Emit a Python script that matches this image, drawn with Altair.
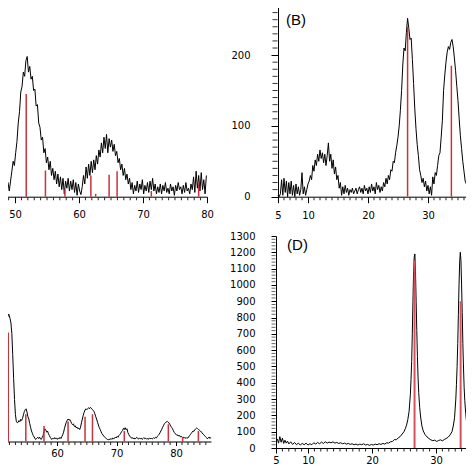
import altair as alt
import pandas as pd

# ---------------- data (2-theta in degrees, intensity in counts) ----------------
# Panel A (top-left, cropped): step 0.2 deg from 47.7
A_counts = [
    14, 22, 10, 24, 6, 18,
    20, 8, 22, 36, 50, 44, 62, 78, 104, 120,
    148, 156, 176, 170, 192, 198, 176, 184, 166, 170,
    150, 152, 128, 130, 104, 98, 80, 84, 62, 68,
    48, 56, 38, 50, 30, 40, 24, 36, 18, 32,
    14, 28, 10, 26, 4, 22, 12, 26, 8, 22,
    10, 24, 6, 20, 2, 18, 8, 3, 14, 30,
    18, 42, 26, 46, 30, 50, 34, 52, 38, 58,
    46, 66, 56, 76, 62, 84, 68, 88, 62, 82,
    70, 80, 64, 74, 58, 64, 48, 54, 38, 46,
    30, 40, 24, 32, 18, 26, 10, 20, 4, 16,
    8, 22, 6, 18, 10, 24, 4, 16, 8, 20,
    6, 22, 10, 26, 8, 18, 4, 14, 6, 18,
    4, 16, 8, 20, 6, 12, 4, 18, 8, 14,
    2, 16, 8, 20, 10, 14, 4, 16, 6, 20,
    8, 12, 4, 18, 10, 28, 6, 36, 12, 30,
    8, 34, 10, 24, 4, 30,
]
A_angle = [round(47.7 + 0.2 * i, 2) for i in range(len(A_counts))]
A_ref_angle = [51.75, 54.75, 57.8, 61.85, 62.6, 64.7, 65.95, 71.3, 78.7]
A_ref_counts = [145, 37, 10, 30, 4, 31, 36, 8, 20]

# Panel B (top-right): step 0.2 deg from 5.0
B_counts = [
    2, 0, 4, 24, 2, 26, 6, 22, 0, 20,
    4, 22, 2, 16, 0, 18, 4, 14, 2, 10,
    34, 4, 14, 2, 10, 18, 22, 30, 24, 44,
    36, 52, 44, 60, 50, 66, 54, 62, 48, 60,
    44, 58, 76, 50, 60, 40, 52, 32, 42, 24,
    30, 12, 20, 2, 14, 4, 16, 6, 12, 2,
    10, 6, 12, 4, 8, 12, 4, 10, 14, 6,
    12, 4, 16, 8, 12, 4, 14, 6, 18, 8,
    14, 4, 20, 10, 16, 6, 14, 8, 20, 14,
    26, 18, 30, 24, 38, 36, 50, 48, 62, 72,
    84, 100, 122, 150, 186, 210, 206, 232, 252, 238,
    222, 224, 194, 160, 124, 96, 74, 58, 38, 30,
    20, 26, 14, 22, 8, 16, 4, 14, 2, 28,
    18, 34, 30, 44, 58, 62, 84, 108, 150, 172,
    190, 204, 212, 208, 218, 222, 212, 196, 178, 156,
    136, 110, 86, 68, 50, 36, 22, 18, 40, 34,
    50, 56, 52, 60,
]
B_angle = [round(5.0 + 0.2 * i, 2) for i in range(len(B_counts))]
B_ref_angle = [26.6, 33.9]
B_ref_counts = [240, 185]

# Panel C (bottom-left, cropped)
C_points = [
    (50.45, 170), (50.6, 165), (50.75, 172), (50.9, 185), (51.0, 260),
    (51.1, 420), (51.25, 630), (51.4, 740), (51.55, 800), (51.65, 825),
    (51.75, 835), (51.85, 850), (51.95, 842), (52.1, 820), (52.25, 790),
    (52.4, 720), (52.55, 580), (52.7, 420), (52.85, 280), (53.0, 180),
    (53.15, 135), (53.3, 125), (53.45, 128), (53.6, 140), (53.75, 132),
    (53.9, 148), (54.05, 140), (54.2, 155), (54.35, 178), (54.5, 200),
    (54.65, 212), (54.8, 218), (54.95, 196), (55.1, 165), (55.25, 150),
    (55.4, 120), (55.55, 95), (55.7, 70), (55.85, 55), (56.0, 40),
    (56.15, 30), (56.3, 18), (56.45, 14), (56.6, 22), (56.75, 28),
    (56.9, 20), (57.05, 30), (57.2, 18), (57.35, 14), (57.5, 26),
    (57.65, 40), (57.8, 70), (57.95, 85), (58.1, 78), (58.25, 62),
    (58.4, 70), (58.55, 52), (58.7, 40), (58.85, 28), (59.0, 18),
    (59.15, 14), (59.3, 22), (59.45, 16), (59.6, 26), (59.75, 18),
    (59.9, 24), (60.05, 14), (60.2, 22), (60.35, 18), (60.5, 28),
    (60.65, 20), (60.8, 32), (60.95, 45), (61.1, 62), (61.25, 88),
    (61.4, 110), (61.55, 128), (61.7, 140), (61.85, 150), (62.0, 142),
    (62.15, 146), (62.3, 135), (62.45, 120), (62.6, 112), (62.75, 118),
    (62.9, 100), (63.05, 105), (63.2, 92), (63.35, 96), (63.5, 85),
    (63.65, 90), (63.8, 80), (63.95, 95), (64.1, 125), (64.25, 150),
    (64.4, 175), (64.55, 195), (64.7, 210), (64.85, 218), (65.0, 212),
    (65.15, 220), (65.3, 225), (65.45, 218), (65.6, 228), (65.75, 222),
    (65.9, 215), (66.05, 208), (66.2, 200), (66.35, 185), (66.5, 165),
    (66.65, 150), (66.8, 128), (66.95, 110), (67.1, 92), (67.25, 80),
    (67.4, 65), (67.55, 52), (67.7, 44), (67.85, 36), (68.0, 30),
    (68.15, 24), (68.3, 18), (68.45, 14), (68.6, 10), (68.75, 16),
    (68.9, 12), (69.05, 20), (69.2, 14), (69.35, 24), (69.5, 16),
    (69.65, 22), (69.8, 30), (69.95, 24), (70.1, 34), (70.25, 28),
    (70.4, 40), (70.55, 46), (70.7, 55), (70.85, 66), (71.0, 72),
    (71.15, 88), (71.3, 80), (71.45, 92), (71.6, 78), (71.75, 85),
    (71.9, 60), (72.05, 46), (72.2, 36), (72.35, 30), (72.5, 22),
    (72.65, 26), (72.8, 18), (72.95, 24), (73.1, 16), (73.25, 22),
    (73.4, 28), (73.55, 20), (73.7, 16), (73.85, 24), (74.0, 18),
    (74.15, 22), (74.3, 14), (74.45, 20), (74.6, 26), (74.75, 18),
    (74.9, 22), (75.05, 16), (75.2, 20), (75.35, 14), (75.5, 24),
    (75.65, 18), (75.8, 22), (75.95, 16), (76.1, 20), (76.25, 26),
    (76.4, 20), (76.55, 28), (76.7, 24), (76.85, 34), (77.0, 40),
    (77.15, 48), (77.3, 58), (77.45, 70), (77.6, 82), (77.75, 95),
    (77.9, 108), (78.05, 118), (78.2, 126), (78.35, 130), (78.5, 135),
    (78.65, 128), (78.8, 125), (78.95, 115), (79.1, 102), (79.25, 95),
    (79.4, 85), (79.55, 72), (79.7, 60), (79.85, 52), (80.0, 48),
    (80.15, 40), (80.3, 44), (80.45, 36), (80.6, 40), (80.75, 30),
    (80.9, 34), (81.05, 26), (81.2, 30), (81.35, 22), (81.5, 28),
    (81.65, 20), (81.8, 26), (81.95, 22), (82.1, 30), (82.25, 38),
    (82.4, 46), (82.55, 55), (82.7, 62), (82.85, 70), (83.0, 68),
    (83.15, 78), (83.3, 85), (83.45, 90), (83.6, 86), (83.75, 80),
    (83.9, 76), (84.05, 72), (84.2, 64), (84.35, 60), (84.5, 50),
    (84.65, 46), (84.8, 38), (84.95, 32), (85.1, 26), (85.25, 18),
    (85.4, 24), (85.55, 30), (85.7, 20), (85.85, 28),
]
C_angle = [p[0] for p in C_points]
C_counts = [p[1] for p in C_points]
C_ref_angle = [51.8, 54.75, 57.8, 61.85, 64.7, 65.95, 71.3, 78.7, 81.1, 83.75]
C_ref_counts = [727, 182, 104, 133, 165, 182, 70, 115, 30, 70]

# Panel D (bottom-right)
D_points = [
    (5.0, 40), (5.2, 55), (5.4, 30), (5.6, 70), (5.8, 35), (6.0, 60),
    (6.2, 28), (6.4, 48), (6.6, 30), (6.8, 42), (7.0, 25), (7.3, 38),
    (7.6, 22), (7.9, 34), (8.2, 20), (8.5, 30), (8.8, 18), (9.1, 28),
    (9.4, 20), (9.7, 30), (10.0, 18), (10.3, 26), (10.6, 20), (10.9, 32),
    (11.2, 24), (11.5, 34), (11.8, 26), (12.1, 36), (12.4, 28), (12.7, 38),
    (13.0, 30), (13.3, 36), (13.6, 32), (13.9, 38), (14.2, 30), (14.5, 34),
    (14.8, 28), (15.1, 32), (15.4, 26), (15.7, 30), (16.0, 24), (16.3, 28),
    (16.6, 22), (16.9, 26), (17.2, 20), (17.5, 24), (17.8, 18), (18.1, 24),
    (18.4, 20), (18.7, 26), (19.0, 18), (19.3, 22), (19.6, 16), (19.9, 22),
    (20.2, 18), (20.5, 24), (20.8, 20), (21.1, 26), (21.4, 22), (21.7, 28),
    (22.0, 24), (22.3, 32), (22.6, 30), (22.9, 38), (23.2, 40), (23.5, 52),
    (23.8, 50), (24.1, 62), (24.4, 70), (24.7, 85), (25.0, 100), (25.2, 118),
    (25.4, 140), (25.6, 175), (25.8, 225), (26.0, 330), (26.1, 420), (26.2, 530),
    (26.3, 700), (26.4, 900), (26.5, 1080), (26.6, 1170), (26.7, 1190), (26.8, 1080),
    (26.9, 900), (27.0, 720), (27.1, 560), (27.2, 430), (27.3, 340), (27.45, 250),
    (27.6, 190), (27.8, 135), (28.0, 105), (28.3, 82), (28.6, 68), (28.9, 58),
    (29.2, 50), (29.5, 45), (29.8, 48), (30.1, 40), (30.4, 46), (30.7, 50),
    (31.0, 44), (31.3, 52), (31.6, 58), (31.9, 66), (32.2, 80), (32.5, 100),
    (32.7, 135), (32.9, 185), (33.1, 300), (33.2, 390), (33.3, 500), (33.4, 640),
    (33.5, 820), (33.6, 1000), (33.7, 1140), (33.8, 1200), (33.9, 1150), (34.0, 1000),
    (34.1, 830), (34.2, 640), (34.3, 490), (34.4, 370), (34.5, 290), (34.65, 210),
    (34.8, 150), (35.0, 110), (35.2, 92), (35.4, 85), (35.6, 75), (35.8, 70),
    (35.94, 72),
]
D_angle = [p[0] for p in D_points]
D_counts = [p[1] for p in D_points]
D_ref_angle = [26.65, 33.85]
D_ref_counts = [1150, 900]

LABELS = {"B": (8.0, 250, "(B)"), "D": (8.36, 1242, "(D)")}

# ---------------- layout (pixel placement of the four cropped panels) ----------------
W = H = 458
LAYOUT = {
    "A": {"x": ([47.65, 80.0], [-8, 199]), "y": ([0, 277.8], [188.7, -8])},
    "B": {"x": ([5.0, 37.67], [270, 466]), "y": ([0, 277.8], [188.7, -8])},
    "C": {"x": ([50.41, 85.87], [-8, 203]), "y": ([0, 1000], [433.5, 283.5])},
    "D": {"x": ([5.0, 35.94], [268, 466]), "y": ([0, 1300], [440, 228])},
}
RED = "#c8323c"
FONT = "DejaVu Sans"


def sc(p, ch):
    d, r = LAYOUT[p][ch]
    return alt.Scale(domain=d, range=r, nice=False, zero=False)


def xaxis(p, values, tick, pad):
    return alt.Axis(orient="bottom", offset=LAYOUT[p]["y"][1][0] - H, values=values,
                    tickSize=tick, labelPadding=pad, title=None, domain=True)


def yaxis(p, values, tick, pad):
    return alt.Axis(orient="left", offset=-LAYOUT[p]["x"][1][0], values=values,
                    tickSize=tick, labelPadding=pad, title=None, domain=True, format="d")


def minor_x(p, values, size=3, color="#222"):
    d = pd.DataFrame({"angle": values, "counts": [0] * len(values)})
    return alt.Chart(d).mark_tick(orient="vertical", size=size, thickness=1, opacity=1,
                                  yOffset=size / 2 + 0.5, color=color).encode(
        x=alt.X("angle:Q", scale=sc(p, "x"), axis=None),
        y=alt.Y("counts:Q", scale=sc(p, "y"), axis=None),
    )


def minor_y(p, at, values, size=4, color="#333"):
    d = pd.DataFrame({"angle": [at] * len(values), "counts": values})
    return alt.Chart(d).mark_tick(orient="horizontal", size=size, thickness=1, opacity=1,
                                  xOffset=-(size / 2 + 0.5), color=color).encode(
        x=alt.X("angle:Q", scale=sc(p, "x"), axis=None),
        y=alt.Y("counts:Q", scale=sc(p, "y"), axis=None),
    )


def panel(p, angle, counts, ref_angle, ref_counts, xmaj, xtick, xpad,
          ymaj=None, ytick=6, ypad=4, red=RED, redw=1.5):
    df = pd.DataFrame({"angle": angle, "counts": counts})
    dr = pd.DataFrame({"angle": ref_angle, "counts": ref_counts,
                       "base": [0] * len(ref_angle)})
    line = alt.Chart(df).mark_line(color="black", strokeWidth=1).encode(
        x=alt.X("angle:Q", scale=sc(p, "x"), axis=xaxis(p, xmaj, xtick, xpad)),
        y=alt.Y("counts:Q", scale=sc(p, "y"),
                axis=yaxis(p, ymaj, ytick, ypad) if ymaj else None),
    )
    rules = alt.Chart(dr).mark_rule(color=red, strokeWidth=redw).encode(
        x=alt.X("angle:Q", scale=sc(p, "x"), axis=None),
        y=alt.Y("counts:Q", scale=sc(p, "y"), axis=None),
        y2="base:Q",
    )
    layers = [line, rules]
    if p in LABELS:
        lx, ly, lt = LABELS[p]
        dt = pd.DataFrame({"angle": [lx], "counts": [ly], "label": [lt]})
        layers.append(
            alt.Chart(dt).mark_text(font="Liberation Sans", fontSize=15, color="black",
                                    align="center", baseline="middle").encode(
                x=alt.X("angle:Q", scale=sc(p, "x"), axis=None),
                y=alt.Y("counts:Q", scale=sc(p, "y"), axis=None),
                text="label:N",
            )
        )
    return layers


layers = []
layers += panel("A", A_angle, A_counts, A_ref_angle, A_ref_counts,
                [50, 60, 70, 80], xtick=6, xpad=7)
layers.append(minor_x("A", [v for v in range(48, 81) if v % 10]))

layers += panel("B", B_angle, B_counts, B_ref_angle, B_ref_counts,
                [5, 10, 20, 30], xtick=6, xpad=8,
                ymaj=[0, 100, 200], ytick=7, ypad=21)
layers.append(minor_x("B", [v for v in range(6, 38) if v % 10]))
layers.append(minor_y("B", 5, [v for v in range(10, 278, 10) if v % 100], size=5))

layers += panel("C", C_angle, C_counts, C_ref_angle, C_ref_counts,
                [60, 70, 80], xtick=4, xpad=3)
layers.append(minor_x("C", [v for v in range(51, 86) if v % 10]))

layers += panel("D", D_angle, D_counts, D_ref_angle, D_ref_counts,
                [5, 10, 20, 30], xtick=5, xpad=2,
                ymaj=list(range(0, 1301, 100)), ytick=5, ypad=16,
                red="#d9505c", redw=2)
layers.append(minor_x("D", [v for v in range(6, 36) if v % 10]))
layers.append(minor_y("D", 5, [v for v in range(20, 1300, 20) if v % 100],
                      size=4, color="#666"))

chart = (
    alt.layer(*layers)
    .resolve_scale(x="independent", y="independent")
    .resolve_axis(x="independent", y="independent")
    .properties(width=W, height=H, autosize=alt.AutoSizeParams(type="none"), padding=0)
    .configure_view(stroke=None)
    .configure_axis(grid=False, labelFont=FONT, labelFontSize=10, labelColor="black",
                    tickColor="black", domainColor="black", domainWidth=1, tickWidth=1,
                    labelFlush=False, labelOverlap=False)
)

chart.save("out.html", embed_options={"renderer": "svg", "actions": False})
